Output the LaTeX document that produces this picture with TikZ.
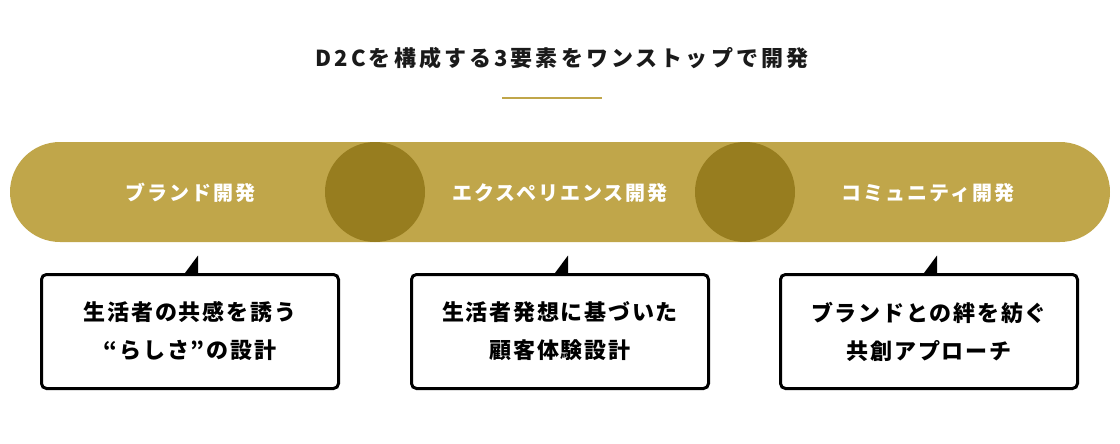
\documentclass[tikz,border=0pt]{standalone}
\usepackage{fontspec}
\setmainfont{Noto Sans CJK JP}
\newfontfamily\titlefont{Noto Sans CJK JP}[LetterSpace=14]
\newfontfamily\barfont{Noto Sans CJK JP}[LetterSpace=10]
\newfontfamily\boxfont{Noto Sans CJK JP}[LetterSpace=8]
\definecolor{gold}{HTML}{C0A64A}
\definecolor{darkgold}{HTML}{977D1F}
\definecolor{ink}{HTML}{1A1A1A}
\begin{document}
\begin{tikzpicture}[x=1pt,y=-1pt,
    barlabel/.style={text=white,font=\barfont\bfseries\fontsize{20}{24}\selectfont},
    joint/.style={circle,fill=darkgold,minimum size=100pt,inner sep=0pt},
    bubble/.style={draw=black,line width=3pt,rounded corners=5pt,fill=white,
      minimum width=297pt,minimum height=114pt,align=center,text=black,
      font=\boxfont\bfseries\fontsize{22}{38}\selectfont}]
      \useasboundingbox (0,0) rectangle (1120,444);

      % title and rule
      \node[text=ink,font=\titlefont\bfseries\fontsize{22}{26}\selectfont] (title) at (562,58)
        {D2Cを構成する3要素をワンストップで開発};
      \draw[gold,line width=1.5pt] (502,98) -- (602,98);

      % the bar
      \fill[gold,rounded corners=50pt] (10,142) rectangle (1110,242);
      \node[joint] (joint1) at (375,192) {};
      \node[joint] (joint2) at (745,192) {};

      \def \Steps {
        brand/190/190/ブランド開発/{生活者の共感を誘う\\“らしさ”の設計},
        exp/560/560/エクスペリエンス開発/{生活者発想に基づいた\\顧客体験設計},
        comm/928/929/コミュニティ開発/{ブランドとの絆を紡ぐ\\共創アプローチ}}

      \foreach \id / \x / \bx / \head / \lines in \Steps {
        \node[barlabel] (\id) at (\x,193) {\head};
        \node[bubble] (\id box) at (\bx,331.5) {\lines};
        \fill (\id box.north) ++(-5,0) -- ++(13,-17.5) -- ++(0,17.5) -- cycle;
      }
    \end{tikzpicture}
\end{document}
